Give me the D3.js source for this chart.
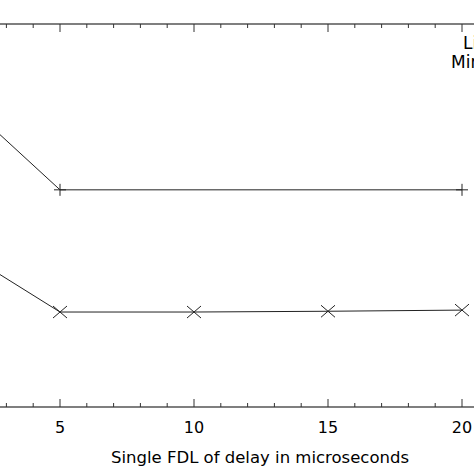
<!DOCTYPE html>
<html>
<head>
<script src="https://cdn.jsdelivr.net/npm/d3@7"></script>
<style>body{margin:0;background:#fff}</style>
</head>
<body>
<div id="chart"></div>
<script>
// data (y in arbitrary units, axis labels cropped away)
let delays = [2, 5, 10, 15, 20];
let upper = [7.6, 5.67, 5.67, 5.67, 5.67];
let upperMarked = [false, true, false, false, true];
let lower = [3.79, 2.48, 2.48, 2.5, 2.53];
let xTicks = [5, 10, 15, 20];
let legend = ["Link", "Minimum"];

let w = 474, h = 474;
let xScale = d3.scaleLinear().domain([0, 20]).range([-74, 462]);
let yScale = d3.scaleLinear().domain([0, 10]).range([407, 24]);

let svg = d3.select("#chart").append("svg").attr("width", w).attr("height", h)
  .style("font-family", "DejaVu Sans");

let minor = d3.range(1, 22);
svg.append("line").attr("x1", 0).attr("x2", w).attr("y1", 407).attr("y2", 407)
  .style("stroke", "#555").style("stroke-width", 1.3);
svg.append("line").attr("x1", 0).attr("x2", w).attr("y1", 24).attr("y2", 24)
  .style("stroke", "#555").style("stroke-width", 1.3);
minor.forEach(v => {
  let len = v % 5 == 0 ? 8 : 4;
  let x = xScale(v);
  svg.append("line").attr("x1", x).attr("x2", x).attr("y1", 407).attr("y2", 407 - len).style("stroke", "#333");
  svg.append("line").attr("x1", x).attr("x2", x).attr("y1", 24).attr("y2", 24 + len).style("stroke", "#333");
});
xTicks.forEach(v => {
  svg.append("text").attr("x", xScale(v)).attr("y", 433).attr("text-anchor", "middle")
    .style("font-size", "16px").text(v);
});
svg.append("text").attr("x", 260).attr("y", 463).attr("text-anchor", "middle")
  .style("font-size", "16.5px").text("Single FDL of delay in microseconds");

let line = d3.line().x((d, i) => xScale(delays[i])).y(d => yScale(d));
[upper, lower].forEach(s => {
  svg.append("path").datum(s).attr("d", line)
    .style("fill", "none").style("stroke", "#222").style("stroke-width", 1);
});
svg.selectAll(".plus").data(upper.filter((d, i) => upperMarked[i])).enter().append("path")
  .attr("d", d => { let i = upper.indexOf(d, upperMarked.indexOf(true));
    let x = xScale(delays[i]), y = yScale(d);
    return ""; });
upper.forEach((d, i) => {
  if (!upperMarked[i]) return;
  let x = xScale(delays[i]), y = yScale(d);
  svg.append("path").attr("d", `M${x-6},${y}H${x+6}M${x},${y-6}V${y+6}`).style("stroke", "#222");
});
svg.selectAll(".cross").data(lower).enter().append("path")
  .attr("d", (d, i) => { let x = xScale(delays[i]), y = yScale(d);
    return `M${x-7},${y-6}L${x+7},${y+6}M${x-7},${y+6}L${x+7},${y-6}`; })
  .style("stroke", "#222");

svg.append("text").attr("x", 463).attr("y", 49).style("font-size", "17px").text(legend[0]);
svg.append("text").attr("x", 451).attr("y", 68).style("font-size", "17px").text(legend[1]);
</script>
</body>
</html>
